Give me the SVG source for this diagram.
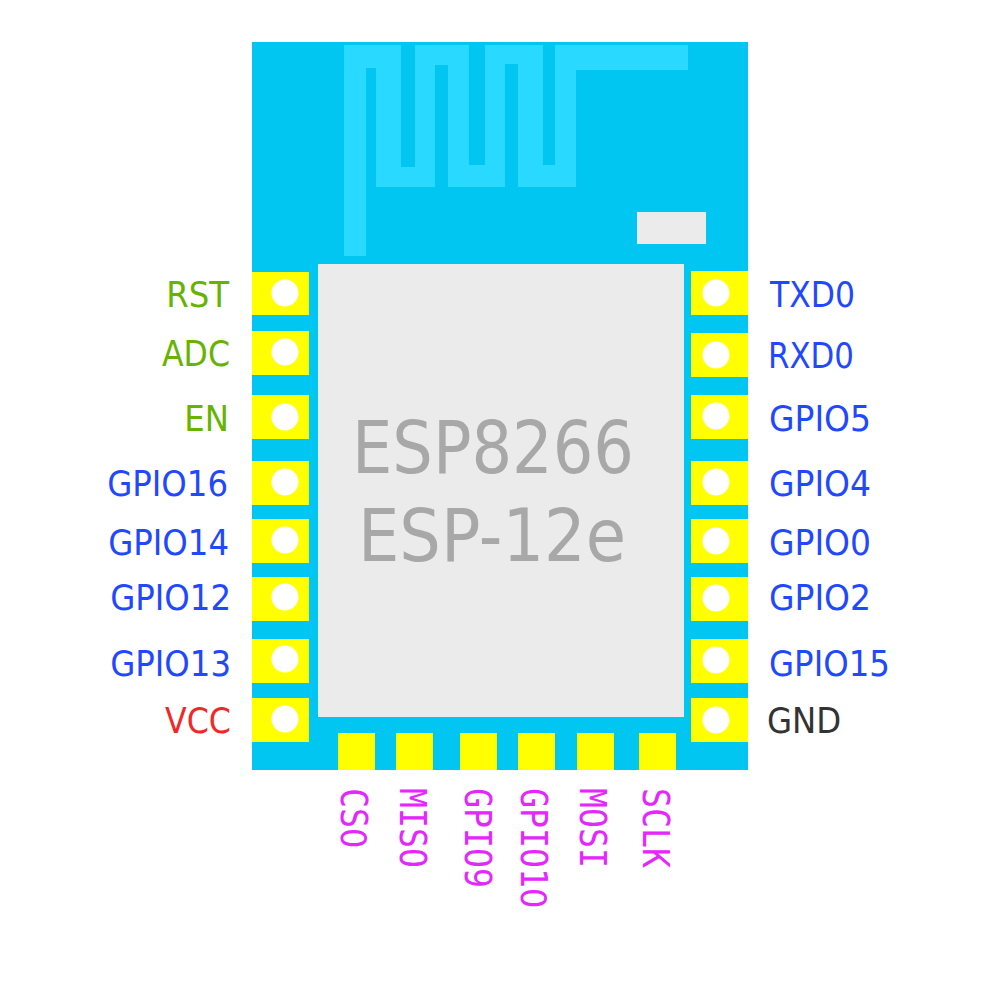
<svg xmlns="http://www.w3.org/2000/svg" width="1000" height="1000" viewBox="0 0 1000 1000">
<style>
.pad{fill:#ffff00}.hole{fill:#fff}
text{font-family:"DejaVu Sans Condensed","DejaVu Sans",sans-serif;font-stretch:condensed;font-size:36px}
.e{text-anchor:end}
.g{fill:#66b300}.b{fill:#1f48ff}.r{fill:#f02828}.d{fill:#333}
.m{font-family:"DejaVu Sans Mono","Liberation Mono",monospace;font-stretch:normal;font-size:33.2px;fill:#e426ff}
.z{font-family:"DejaVu Sans",sans-serif;font-size:32px}
.c{font-size:73px;fill:#a8a8a8}
</style>
<g id="board">
<rect x="252" y="42" width="496" height="728" fill="#00c6f1"/>
<path id="antenna" fill="#29d9ff" d="M344 45H401V167H415V45H469V165H485V45H543V165H555V45H688V70H576V187H518V64H505V187H448V65H435V187H376V68H366V256H344Z"/>
<rect id="shield-mark" x="637" y="212" width="69" height="32" fill="#ebebeb"/>
</g>
<g id="chip">
<rect x="318" y="264" width="366" height="453" fill="#ebebeb"/>
<text class="c" x="352" y="473" textLength="282" lengthAdjust="spacingAndGlyphs">ESP8266</text>
<text class="c" x="358" y="561" textLength="268" lengthAdjust="spacingAndGlyphs">ESP-12e</text>
</g>
<g id="pin-RST"><rect class="pad" x="252" y="272" width="57" height="43"/><circle class="hole" cx="285" cy="293" r="13.500"/><text class="g e" x="229" y="307">RST</text></g>
<g id="pin-ADC"><rect class="pad" x="252" y="331" width="57" height="44"/><circle class="hole" cx="285" cy="352" r="13.500"/><text class="g e" x="230" y="366" textLength="68" lengthAdjust="spacingAndGlyphs">ADC</text></g>
<g id="pin-EN"><rect class="pad" x="252" y="395" width="57" height="44"/><circle class="hole" cx="285" cy="417" r="13.500"/><text class="g e" x="229" y="431">EN</text></g>
<g id="pin-GPIO16"><rect class="pad" x="252" y="461" width="57" height="44"/><circle class="hole" cx="285" cy="482" r="13.500"/><text class="b e" x="228" y="496">GPIO16</text></g>
<g id="pin-GPIO14"><rect class="pad" x="252" y="519" width="57" height="44"/><circle class="hole" cx="285" cy="540" r="13.500"/><text class="b e" x="229" y="555">GPIO14</text></g>
<g id="pin-GPIO12"><rect class="pad" x="252" y="577" width="57" height="44"/><circle class="hole" cx="285" cy="597" r="13.500"/><text class="b e" x="231" y="610">GPIO12</text></g>
<g id="pin-GPIO13"><rect class="pad" x="252" y="639" width="57" height="44"/><circle class="hole" cx="285" cy="659" r="13.500"/><text class="b e" x="231" y="676">GPIO13</text></g>
<g id="pin-VCC"><rect class="pad" x="252" y="698" width="57" height="44"/><circle class="hole" cx="285" cy="719" r="13.500"/><text class="r e" x="231" y="733" textLength="66" lengthAdjust="spacingAndGlyphs">VCC</text></g>
<g id="pin-TXD0"><rect class="pad" x="691" y="271" width="57" height="44"/><circle class="hole" cx="716" cy="293" r="13.500"/><text class="b" x="770" y="307" textLength="85" lengthAdjust="spacingAndGlyphs">TXD0</text></g>
<g id="pin-RXD0"><rect class="pad" x="691" y="333" width="57" height="44"/><circle class="hole" cx="716" cy="355" r="13.500"/><text class="b" x="768" y="368" textLength="86" lengthAdjust="spacingAndGlyphs">RXD0</text></g>
<g id="pin-GPIO5"><rect class="pad" x="691" y="395" width="57" height="44"/><circle class="hole" cx="716" cy="416" r="13.500"/><text class="b" x="769" y="431" textLength="102" lengthAdjust="spacingAndGlyphs">GPIO5</text></g>
<g id="pin-GPIO4"><rect class="pad" x="691" y="461" width="57" height="44"/><circle class="hole" cx="716" cy="482" r="13.500"/><text class="b" x="769" y="496" textLength="102" lengthAdjust="spacingAndGlyphs">GPIO4</text></g>
<g id="pin-GPIO0"><rect class="pad" x="691" y="519" width="57" height="44"/><circle class="hole" cx="716" cy="541" r="13.500"/><text class="b" x="769" y="555" textLength="102" lengthAdjust="spacingAndGlyphs">GPIO0</text></g>
<g id="pin-GPIO2"><rect class="pad" x="691" y="577" width="57" height="44"/><circle class="hole" cx="716" cy="598" r="13.500"/><text class="b" x="769" y="610" textLength="102" lengthAdjust="spacingAndGlyphs">GPIO2</text></g>
<g id="pin-GPIO15"><rect class="pad" x="691" y="639" width="57" height="44"/><circle class="hole" cx="716" cy="660" r="13.500"/><text class="b" x="769" y="676">GPIO15</text></g>
<g id="pin-GND"><rect class="pad" x="691" y="698" width="57" height="44"/><circle class="hole" cx="716" cy="720" r="13.500"/><text class="d" x="767" y="733">GND</text></g>
<g id="pin-CS0"><rect class="pad" x="338" y="733" width="37" height="37"/><text class="m" transform="translate(341 788) rotate(90) scale(1 1.12)">CS<tspan class="z">0</tspan></text></g>
<g id="pin-MISO"><rect class="pad" x="396" y="733" width="37" height="37"/><text class="m" transform="translate(400 788) rotate(90) scale(1 1.12)">MISO</text></g>
<g id="pin-GPIO9"><rect class="pad" x="460" y="733" width="37" height="37"/><text class="m" transform="translate(465 788) rotate(90) scale(1 1.12)">GPIO9</text></g>
<g id="pin-GPIO10"><rect class="pad" x="518" y="733" width="37" height="37"/><text class="m" transform="translate(521 788) rotate(90) scale(1 1.12)">GPIO1<tspan class="z">0</tspan></text></g>
<g id="pin-MOSI"><rect class="pad" x="577" y="733" width="37" height="37"/><text class="m" transform="translate(580 788) rotate(90) scale(1 1.12)">MOSI</text></g>
<g id="pin-SCLK"><rect class="pad" x="639" y="733" width="37" height="37"/><text class="m" transform="translate(643 788) rotate(90) scale(1 1.12)">SCLK</text></g>
</svg>
